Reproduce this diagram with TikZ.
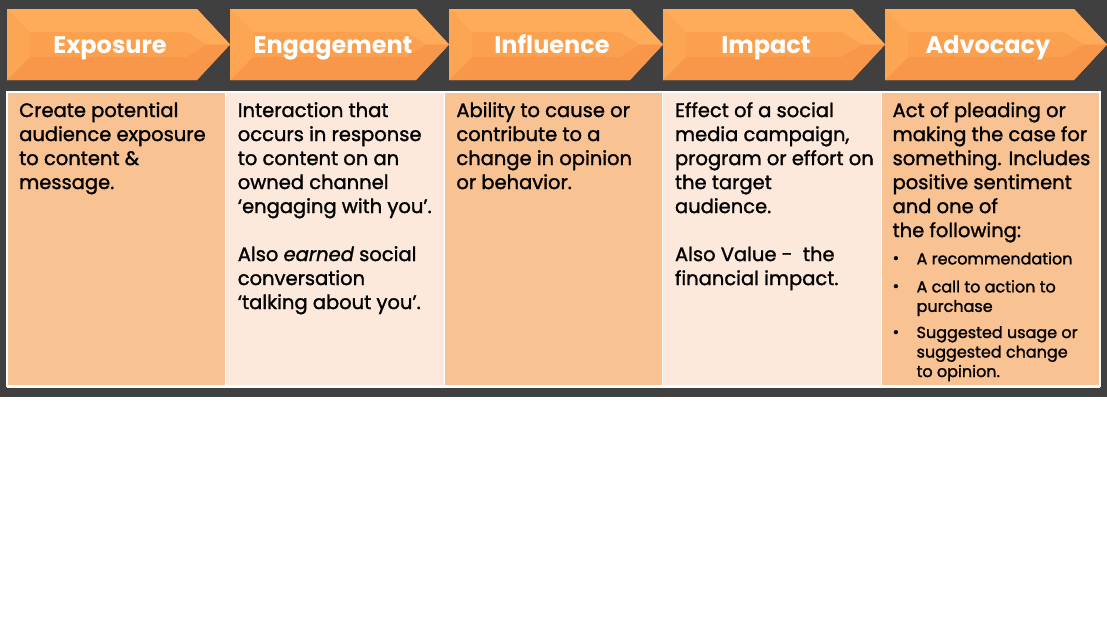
\documentclass[tikz,border=0pt]{standalone}
\usepackage{fontspec}
\setmainfont{Poppins}
\newfontfamily\bodyfont{Poppins}[FakeBold=1.4]
\usetikzlibrary{positioning}

\definecolor{bgdark}{HTML}{404040}
\definecolor{arrowmain}{HTML}{FBA04F}
\definecolor{arrowtop}{HTML}{FEAC5A}
\definecolor{arrowleft}{HTML}{FCA553}
\definecolor{arrowbot}{HTML}{F8974A}
\definecolor{celldark}{HTML}{F9C292}
\definecolor{celllight}{HTML}{FDE9DC}

\begin{document}
\begin{tikzpicture}[
    x=1pt, y=1pt,
    stagetext/.style={text=white,font=\fontsize{24}{28}\selectfont\bfseries,inner sep=0pt,anchor=base},
    cell/.style={draw=white,line width=1.2pt,minimum width=218.6pt,minimum height=294pt,inner sep=0pt,outer sep=0pt,anchor=north west},
    celltext/.style={font=\bodyfont\fontsize{19.5}{24}\selectfont,align=left,inner sep=0pt,anchor=north west},
    bullettext/.style={font=\bodyfont\fontsize{16}{19.5}\selectfont,align=left,inner sep=0pt,anchor=north west,
      label={[anchor=north east,inner sep=0pt,xshift=-17pt,yshift=-4pt,font=\bodyfont\fontsize{16}{19.5}\selectfont]north west:\textbullet}}
    ]

    \useasboundingbox (0,0) rectangle (1107,-640);
    \fill[bgdark] (0,0) rectangle (1107,-397);

    % stages
    \foreach \x/\nx/\name/\txt in {7/230/expo/Exposure,230/449/enga/Engagement,449/663/infl/Influence,663/885/impa/Impact,885/1107/advo/Advocacy}{
      \fill[arrowmain] (\x,-9) -- (\nx-33,-9) -- (\nx,-44.5) -- (\nx-33,-80) -- (\x,-80) -- cycle;
      \fill[arrowtop] (\x,-9) -- (\nx-33,-9) -- (\nx,-44.5) -- (\nx-23,-44.5) -- (\nx-43,-32) -- (\x+23,-32) -- cycle;
      \fill[arrowbot] (\x,-80) -- (\nx-33,-80) -- (\nx,-44.5) -- (\nx-23,-44.5) -- (\nx-43,-57) -- (\x+23,-57) -- cycle;
      \fill[arrowleft] (\x,-9) -- (\x+23,-32) -- (\x+23,-57) -- (\x,-80) -- cycle;
      \node[stagetext] (\name) at (\x+103,-53) {\txt};
    }

    \node[cell,fill=celldark] (expocell) at (7,-92) {};
    \node[cell,fill=celllight,right=0pt of expocell] (engacell) {};
    \node[cell,fill=celldark,right=0pt of engacell] (inflcell) {};
    \node[cell,fill=celllight,right=0pt of inflcell] (impacell) {};
    \node[cell,fill=celldark,right=0pt of impacell] (advocell) {};
    \draw[white,line width=3pt] (expocell.south west) -- (advocell.south east);

    \node[celltext] (expotext) at ([shift={(12,-10)}]expocell.north west)
      {Create potential\\audience exposure\\to content \&\\message.};
    \node[celltext] (engatext) at ([shift={(12,-10)}]engacell.north west)
      {Interaction that\\occurs in response\\to content on an\\owned channel\\‘engaging with you’.\\[24pt]Also \emph{earned} social\\conversation\\‘talking about you’.};
    \node[celltext] (infltext) at ([shift={(12,-10)}]inflcell.north west)
      {Ability to cause or\\contribute to a\\change in opinion\\or behavior.};
    \node[celltext] (impatext) at ([shift={(12,-10)}]impacell.north west)
      {Effect of a social\\media campaign,\\program or effort on\\the target\\audience.\\[24pt]Also Value -~ the\\financial impact.};
    \node[celltext] (advotext) at ([shift={(11,-10)}]advocell.north west)
      {Act of pleading or\\making the case for\\something. Includes\\positive sentiment\\and one of\\the following:};

    \node[bullettext] (advoa) at ([shift={(35,-160)}]advocell.north west) {A recommendation};
    \node[bullettext] (advob) at ([shift={(35,-188)}]advocell.north west) {A call to action to\\purchase};
    \node[bullettext] (advoc) at ([shift={(35,-234)}]advocell.north west) {Suggested usage or\\suggested change\\to opinion.};

  \end{tikzpicture}
\end{document}
